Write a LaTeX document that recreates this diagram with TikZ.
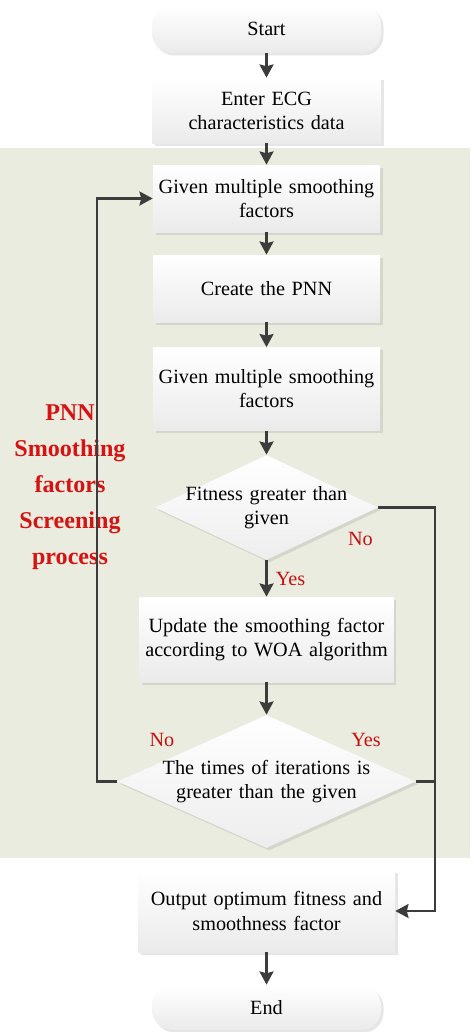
\documentclass[tikz,border=0pt]{standalone}
\usepackage{fontspec}
\setmainfont{Liberation Serif}
\usepackage{xcolor}
\usepackage{tikz}
\usetikzlibrary{shapes.geometric, arrows.meta, shadows}
\definecolor{panelgreen}{RGB}{233,236,222}
\definecolor{linegray}{RGB}{60,60,60}
\definecolor{answerred}{RGB}{200,16,16}
\definecolor{notered}{RGB}{214,18,18}
\tikzstyle{terminal} = [rectangle, rounded corners=0.4cm,
minimum width=4.58cm,
minimum height=0.96cm,
text centered,
top color=white, bottom color=gray!16,
drop shadow={shadow xshift=0.05cm, shadow yshift=-0.05cm, opacity=0.2},
font=\fontsize{11.5}{13.7}\selectfont]
\tikzstyle{process} = [rectangle,
minimum width=4.54cm,
minimum height=1.34cm,
text width=4.4cm,
align=center,
inner xsep=0.07cm,
top color=white, bottom color=gray!16,
drop shadow={shadow xshift=0.05cm, shadow yshift=-0.05cm, opacity=0.2},
font=\fontsize{11.5}{13.7}\selectfont]
\tikzstyle{decision} = [diamond,
minimum width=4.46cm,
minimum height=2.1cm,
inner sep=0pt,
top color=white, bottom color=gray!14,
drop shadow={shadow xshift=0.05cm, shadow yshift=-0.05cm, opacity=0.2}]
\tikzstyle{decisiontext} = [text width=4cm, align=center,
font=\fontsize{11.5}{13.7}\selectfont]
\tikzstyle{answer} = [text=answerred, font=\fontsize{11.5}{13.7}\selectfont]
\tikzstyle{note} = [text=notered, align=center,
font=\fontsize{13.7}{20.5}\selectfont\bfseries]
\tikzstyle{arrow} = [line width=1.2pt, draw=linegray, ->, >={Stealth[length=7.5pt,width=8pt,inset=1pt]}]
\tikzstyle{rail} = [line width=1.2pt, draw=linegray]

\begin{document}
\begin{tikzpicture}[node distance=1.8cm]
\useasboundingbox (0,0) rectangle (9.48,-20.64);
% panel behind the screening loop
\fill[panelgreen] (0,-2.96) rectangle (9.4,-17.16);

\node (start) [terminal] at (5.33,-0.58) {Start};
\node (enter) [process, below of=start, yshift=0.17cm, minimum width=4.58cm, minimum height=1.3cm] {Enter ECG\\characteristics data};
\node (given1) [process, below of=enter, yshift=0.04cm] {Given multiple smoothing\\factors};
\node (create) [process, below of=given1] {Create the PNN};
\node (given2) [process, below of=create, yshift=-0.21cm, minimum height=1.66cm] {Given multiple smoothing\\factors};
\node (fitness) [decision, below of=given2, yshift=-0.57cm] {};
\node (fitnesstext) [decisiontext] at (fitness) {Fitness greater than\\given};
\node (update) [process, below of=fitness, yshift=-0.84cm, minimum width=5.08cm, minimum height=1.7cm, text width=4.9cm] {Update the smoothing factor\\according to WOA algorithm};
\node (iteration) [decision, below of=update, yshift=-1.04cm, minimum width=5.96cm, minimum height=2.66cm] {};
\node (iterationtext) [decisiontext, text width=5.4cm] at (iteration) {The times of iterations is\\greater than the given};
\node (output) [process, below of=iteration, yshift=-0.79cm, minimum width=5.14cm, minimum height=1.64cm, text width=4.9cm] {Output optimum fitness and\\smoothness factor};
\node (end) [terminal, below of=output, yshift=-0.13cm, minimum height=0.9cm] {End};

\node (screening) [note] at (1.4,-9.74) {PNN\\Smoothing\\factors\\Screening\\process};
\node (nofit) [answer] at (7.21,-10.78) {No};
\node (noiter) [answer] at (3.24,-14.8) {No};
\node (yesiter) [answer] at (7.32,-14.8) {Yes};

\draw [arrow] (start) -- (enter);
\draw [arrow] (enter) -- (given1);
\draw [arrow] (given1) -- (create);
\draw [arrow] (create) -- (given2);
\draw [arrow] (given2) -- (fitness);
\draw [arrow] (fitness) -- node[answer, anchor=west, xshift=0.05cm] (yesfit) {Yes} (update);
\draw [arrow] (update) -- (iteration);
\draw [arrow] (iteration.west) -- ++(-0.41,0) |- (given1.west);
\draw [arrow] (fitness.east) -- ++(1.14,0) |- (output.east);
\draw [rail] (iteration.east) -- ++(0.39,0);
\draw [arrow] (output) -- (end);
\end{tikzpicture}
\end{document}
